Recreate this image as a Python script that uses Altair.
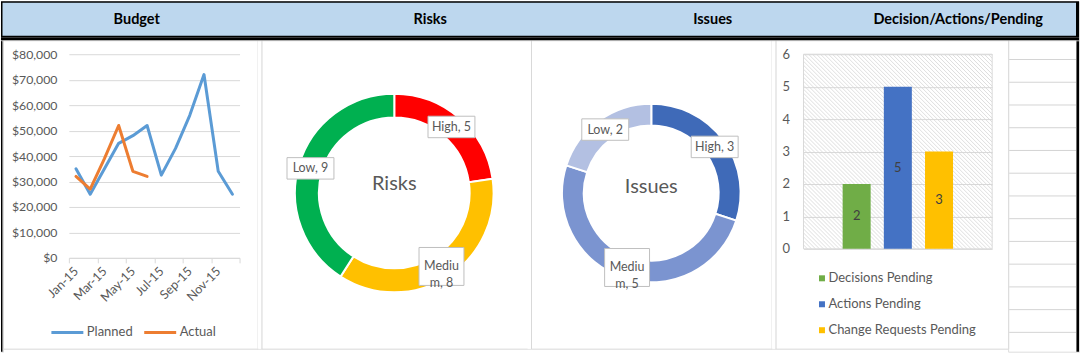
import json
import altair as alt
import pandas as pd

# ---------------- data ----------------
section_titles = ["Budget", "Risks", "Issues", "Decision/Actions/Pending"]

months = ["Jan-15", "Feb-15", "Mar-15", "Apr-15", "May-15", "Jun-15",
          "Jul-15", "Aug-15", "Sep-15", "Oct-15", "Nov-15", "Dec-15"]
planned = [35000, 25000, 35000, 45000, 48000, 52000, 32500, 43000, 56000, 72000, 34000, 25000]
actual = [32000, 27000, 39000, 52000, 34000, 32000, None, None, None, None, None, None]
budget_series = ["Planned", "Actual"]

risk_levels = ["High", "Medium", "Low"]
risk_counts = [5, 8, 9]
issue_levels = ["High", "Medium", "Low"]
issue_counts = [3, 5, 2]

pending_items = ["Decisions Pending", "Actions Pending", "Change Requests Pending"]
pending_counts = [2, 5, 3]

# ---------------- styles / layout ----------------
FONT = "Lato"
TXT = "#595959"
GRID = "#D9D9D9"
BORDER = "#D9D9D9"
HEADER_BLUE = "#BDD7EE"

TOTAL_W = 1080
HEAD_H = 36
BODY_H = 315
PANEL_H = 312
FOOT_H = 3
title_centers = [136, 430, 713, 959]

one = pd.DataFrame({"_": [0]})

# ---------------- header ----------------
head_bg = alt.Chart(one).mark_rect(color="black").encode(
    x=alt.value(0), x2=alt.value(TOTAL_W), y=alt.value(0), y2=alt.value(HEAD_H))
head_band = alt.Chart(one).mark_rect(color=HEADER_BLUE).encode(
    x=alt.value(1.5), x2=alt.value(1077), y=alt.value(1.5), y2=alt.value(34.5))
title_layers = [
    alt.Chart(pd.DataFrame({"t": [t]})).mark_text(
        font=FONT, fontSize=14.5, fontWeight="bold", color="black", baseline="middle"
    ).encode(x=alt.value(cx), y=alt.value(19), text="t:N")
    for t, cx in zip(section_titles, title_centers)
]
header = alt.layer(head_bg, head_band, *title_layers).properties(width=TOTAL_W, height=HEAD_H)

# ---------------- budget ----------------
W_B = 255
bx0, bx1 = 66, 237
by0, by1 = 221, 17
rows = []
for i, m in enumerate(months):
    rows.append({"i": i, "month": m, "series": "Planned", "amount": planned[i]})
    if actual[i] is not None:
        rows.append({"i": i, "month": m, "series": "Actual", "amount": actual[i]})
budget_df = pd.DataFrame(rows)

n_m = len(months)
label_expr = f"datum.value < {n_m} ? {json.dumps(months)}[datum.value] : ''"

budget = alt.Chart(budget_df).transform_calculate(
    pos="datum.i + 0.5"
).mark_line(strokeWidth=3, strokeCap="round", strokeJoin="round").encode(
    x=alt.X("pos:Q",
            scale=alt.Scale(domain=[0, n_m], range=[bx0, bx1], nice=False, zero=False),
            axis=alt.Axis(values=list(range(0, n_m + 1, 2)), labelExpr=label_expr,
                          labelAngle=-45, labelAlign="right", labelBaseline="middle",
                          labelOffset=7, labelPadding=6, tickSize=5, tickColor=GRID,
                          domainColor=GRID, grid=False, title=None,
                          offset=-(PANEL_H - by0), labelFlush=False, labelOverlap=False,
                          labelColor=TXT, labelFontSize=12.5, labelFont=FONT)),
    y=alt.Y("amount:Q",
            scale=alt.Scale(domain=[0, 80000], range=[by0, by1], nice=False),
            axis=alt.Axis(values=list(range(0, 80001, 10000)), format="$,.0f", grid=True,
                          gridColor=GRID, ticks=False, domain=False, labelPadding=12,
                          offset=-bx0, title=None, labelColor=TXT, labelFontSize=12.3,
                          labelFont=FONT)),
    color=alt.Color("series:N",
                    scale=alt.Scale(domain=budget_series, range=["#5B9BD5", "#ED7D31"]),
                    legend=alt.Legend(orient="none", legendX=47, legendY=278,
                                      direction="horizontal", title=None,
                                      symbolType="stroke", symbolSize=1024,
                                      symbolStrokeWidth=3, labelFontSize=13,
                                      labelColor=TXT, labelFont=FONT, labelOffset=2,
                                      columnPadding=5)),
    order="i:Q",
).properties(width=W_B, height=PANEL_H, view=alt.ViewBackground(stroke=BORDER, fill="white"))


# ---------------- donuts ----------------
def donut(levels, counts, colors, title, W, H, r_out, r_in, title_dy):
    df = pd.DataFrame({"level": levels, "count": counts, "k": list(range(len(levels)))})
    cx, cy = W / 2, H / 2
    r_mid = (r_out + r_in) / 2
    base = alt.Chart(df)
    arcs = base.mark_arc(outerRadius=r_out, innerRadius=r_in, stroke="white",
                         strokeWidth=2).encode(
        theta=alt.Theta("count:Q", stack=True),
        order=alt.Order("k:Q", sort="ascending"),
        color=alt.Color("level:N", scale=alt.Scale(domain=levels, range=colors), legend=None),
    )
    lab = base.transform_joinaggregate(
        total="sum(count)"
    ).transform_window(
        cum="sum(count)", sort=[alt.SortField("k", order="ascending")], frame=[None, 0]
    ).transform_calculate(
        mid="(datum.cum - datum.count / 2) / datum.total * 2 * PI",
        lx=f"{cx} + {r_mid} * sin(datum.mid)",
        ly=f"{cy} - {r_mid} * cos(datum.mid)",
        txt="datum.level + ', ' + datum.count",
        nl="length(datum.txt) > 8 ? 2 : 1",
        lbl="datum.nl > 1 ? substring(datum.txt, 0, 5) + '\\n' + substring(datum.txt, 5) : datum.txt",
        bw="datum.nl > 1 ? 45 : 47",
        bh="5 + 16.5 * datum.nl",
        x1="datum.lx - datum.bw / 2",
        x2="datum.lx + datum.bw / 2",
        y1="datum.ly - datum.bh / 2",
        y2="datum.ly + datum.bh / 2",
    )
    xs = alt.Scale(domain=[0, W], range=[0, W], nice=False, zero=False)
    ys = alt.Scale(domain=[0, H], range=[0, H], nice=False, zero=False)
    boxes = lab.mark_rect(fill="white", stroke="#BFBFBF", strokeWidth=1).encode(
        x=alt.X("x1:Q", scale=xs, axis=None), x2="x2:Q",
        y=alt.Y("y1:Q", scale=ys, axis=None), y2="y2:Q")
    texts = lab.mark_text(font=FONT, fontSize=12.5, color=TXT, lineBreak="\n",
                          lineHeight=16.5, baseline="middle", align="center").encode(
        x=alt.X("lx:Q", scale=xs, axis=None),
        y=alt.Y("ly:Q", scale=ys, axis=None),
        text="lbl:N")
    center = alt.Chart(pd.DataFrame({"t": [title]})).mark_text(
        font=FONT, fontSize=20, color=TXT, baseline="middle", align="center"
    ).encode(x=alt.value(cx), y=alt.value(cy - title_dy), text="t:N")
    return alt.layer(arcs, boxes, texts, center).properties(
        width=W, height=H, view=alt.ViewBackground(stroke=BORDER, fill="white"))


risks = donut(risk_levels, risk_counts, ["#FF0000", "#FFC000", "#00B050"],
              "Risks", 266, PANEL_H, 99.5, 75.5, 9)
issues = donut(issue_levels, issue_counts, ["#3F6AB8", "#7B94D0", "#B3C0E2"],
               "Issues", 241, PANEL_H, 89.5, 67.5, 6)

# ---------------- pending bars ----------------
W_D = 233
px0, px1 = 28, 217
py0, py1 = 212, 17
PW, PH = px1 - px0, py0 - py1
pend_df = pd.DataFrame({"item": pending_items, "n": pending_counts})

pix_x = alt.Scale(domain=[0, W_D], range=[0, W_D], nice=False, zero=False)
pix_y = alt.Scale(domain=[0, PANEL_H], range=[0, PANEL_H], nice=False, zero=False)

hatch = alt.Chart(alt.sequence(-PH - 4, PW + 4, 4, as_="k")).transform_calculate(
    t1="max(0, -datum.k)",
    t2=f"min({PH}, {PW} - datum.k)",
).transform_filter("datum.t2 > datum.t1").transform_calculate(
    hx1=f"{px0} + datum.k + datum.t1",
    hx2=f"{px0} + datum.k + datum.t2",
    hy1=f"{py1} + datum.t1",
    hy2=f"{py1} + datum.t2",
).mark_rule(color="#D6D6D6", strokeWidth=0.8).encode(
    x=alt.X("hx1:Q", scale=pix_x, axis=None), x2="hx2:Q",
    y=alt.Y("hy1:Q", scale=pix_y, axis=None), y2="hy2:Q")

plot_frame = alt.Chart(one).mark_rect(fillOpacity=0, stroke=GRID, strokeWidth=1).encode(
    x=alt.value(px0), x2=alt.value(px1), y=alt.value(py1), y2=alt.value(py0))

band_x = alt.Scale(type="band", domain=pending_items, range=[px0, px1],
                   paddingInner=0.32, paddingOuter=0.95)
val_y = alt.Scale(domain=[0, 6], range=[py0, py1], nice=False)

bars = alt.Chart(pend_df).mark_bar().encode(
    x=alt.X("item:N", scale=band_x, axis=None),
    y=alt.Y("n:Q", scale=val_y,
            axis=alt.Axis(values=list(range(0, 7)), grid=True, gridColor=GRID, ticks=False,
                          domain=False, labelPadding=14, offset=-px0, title=None,
                          labelColor=TXT, labelFontSize=13, labelFont=FONT)),
    color=alt.Color("item:N",
                    scale=alt.Scale(domain=pending_items, range=["#70AD47", "#4472C4", "#FFC000"]),
                    legend=alt.Legend(orient="none", legendX=40, legendY=235,
                                      direction="vertical", title=None, symbolType="square",
                                      symbolSize=36, symbolStrokeWidth=0, labelFontSize=13,
                                      labelColor=TXT, labelFont=FONT, labelOffset=0,
                                      rowPadding=12)),
)
bar_labels = alt.Chart(pend_df).transform_calculate(half="datum.n / 2").mark_text(
    font=FONT, fontSize=13, color="#404040", baseline="middle", align="center"
).encode(
    x=alt.X("item:N", scale=band_x, axis=None),
    y=alt.Y("half:Q", scale=val_y, axis=None),
    text="n:Q")

pending = alt.layer(hatch, plot_frame, bars, bar_labels).resolve_scale(
    x="independent", y="independent"
).properties(width=W_D, height=PANEL_H, view=alt.ViewBackground(stroke=BORDER, fill="white"))

# ---------------- spreadsheet filler, gaps, side bars, footer ----------------
filler = alt.Chart(alt.sequence(0, 13, as_="k")).transform_calculate(
    yy="22.3 + datum.k * 22.78"
).mark_rule(color="#D4D4D4", strokeWidth=1).encode(
    y=alt.Y("yy:Q", scale=alt.Scale(domain=[0, BODY_H], range=[0, BODY_H], nice=False, zero=False),
            axis=None),
    x=alt.value(1), x2=alt.value(68)
).properties(width=68, height=BODY_H)


def gap():
    return alt.Chart(one).mark_rect(color="white").encode(
        x=alt.value(0), x2=alt.value(4), y=alt.value(0), y2=alt.value(PANEL_H)
    ).properties(width=4, height=PANEL_H)


left_bar = alt.Chart(one).mark_rect(color="black").encode(
    x=alt.value(0), x2=alt.value(1.5), y=alt.value(0), y2=alt.value(BODY_H)
).properties(width=2, height=BODY_H)
right_bar = alt.Chart(one).mark_rect(color="black").encode(
    x=alt.value(0.5), x2=alt.value(3), y=alt.value(0), y2=alt.value(BODY_H)
).properties(width=3, height=BODY_H)
footer = alt.Chart(one).mark_rect(color="black").encode(
    x=alt.value(0), x2=alt.value(TOTAL_W), y=alt.value(0), y2=alt.value(FOOT_H)
).properties(width=TOTAL_W, height=FOOT_H)

body = alt.hconcat(left_bar, budget, gap(), risks, gap(), issues, gap(), pending,
                   filler, right_bar, spacing=0, bounds="flush").resolve_scale(color="independent")

chart = alt.vconcat(header, body, footer, spacing=0, bounds="flush").resolve_scale(
    color="independent"
).properties(
    padding=0, background="white"
).configure_view(stroke="transparent").configure(font=FONT)

chart.save("out.html", embed_options={"renderer": "svg", "actions": False})
